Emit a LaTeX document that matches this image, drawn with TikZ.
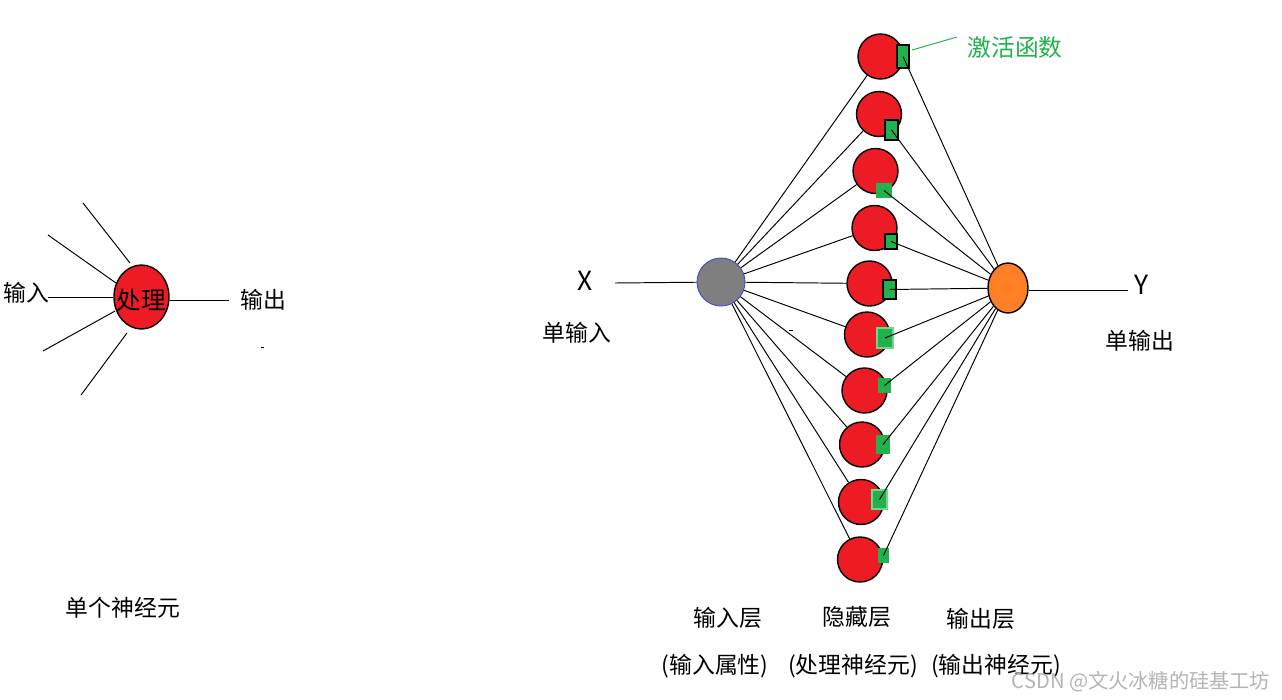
\documentclass[tikz,border=0pt]{standalone}
\usepackage{fontspec}
\setmainfont{Noto Sans CJK SC}
\usetikzlibrary{shapes.geometric}
\definecolor{pred}{HTML}{ED1C24}
\definecolor{pgreen}{HTML}{22B14C}
\definecolor{lgreen}{HTML}{6CD98A}
\definecolor{porange}{HTML}{FF7F27}
\definecolor{pgray}{HTML}{7F7F7F}
\definecolor{pblue}{HTML}{3F48CC}
\definecolor{wmark}{HTML}{B4B4B4}
\tikzset{
  lbl/.style={font=\fontsize{13pt}{15pt}\selectfont, inner sep=0pt},
  conn/.style={draw=black, line width=0.55pt},
  neuron/.style={circle, fill=pred, draw=black, line width=0.8pt, minimum size=0.9cm, inner sep=0pt},
  sqb/.style={draw=black, line width=0.6pt},
  sqn/.style={draw=none},
  sql/.style={draw=lgreen, line width=0.6pt},
}
\begin{document}
\begin{tikzpicture}[x=0.02cm,y=-0.02cm]
\useasboundingbox[fill=white] (0,0) rectangle (1282,700);

% ---------- single neuron ----------
\node[ellipse, fill=pred, draw=black, line width=0.8pt, minimum width=1.1cm, minimum height=1.28cm, inner sep=0pt] (proc) at (141.5,297) {};
\node[lbl, font=\fontsize{14pt}{16pt}\selectfont] (proct) at (141,300) {处理};
\node[lbl] (inl) at (26,293) {输入};
\node[lbl] (outl) at (263,300) {输出};
\coordinate (a1) at (83,203);
\coordinate (a2) at (48,235);
\coordinate (a3) at (48,297);
\coordinate (a4) at (43,351);
\coordinate (a5) at (81,395);
\coordinate (b1) at (229,300);
\draw[conn] (a1) -- (130,263);
\draw[conn] (a2) -- (116,283);
\draw[conn] (a3) -- (proc.west);
\draw[conn] (a4) -- (115,311);
\draw[conn] (a5) -- (127,333);
\draw[conn] (proc.east |- b1) -- (b1);
\coordinate (d1) at (261,347);
\draw[conn] (d1) -- ++(3,0);
\node[lbl] (single) at (123,608) {单个神经元};

% ---------- network ----------
\node[circle, fill=pgray, draw=pblue, line width=0.5pt, minimum size=0.96cm, inner sep=0pt] (in) at (721,282) {};
\node[ellipse, fill=porange, draw=black, line width=0.8pt, minimum width=0.8cm, minimum height=1.0cm, inner sep=0pt] (out) at (1008,288) {};
\coordinate (xin) at (615,283);
\coordinate (yout) at (1128,290);
\draw[conn] (xin) -- (in);
\draw[conn] (out.east |- yout) -- (yout);
\node[lbl, font=\fontsize{15pt}{17pt}\selectfont] (X) at (585,281) {X};
\node[lbl, font=\fontsize{15pt}{17pt}\selectfont] (Y) at (1141,285) {Y};
\node[lbl] (sin) at (577,333) {单输入};
\node[lbl] (sout) at (1140,341) {单输出};

\foreach \i/\hx/\hy/\sx/\sy/\w/\h/\b in {
  1/880.5/56.5/903/56.5/12/23/sqb,
  2/879/114/891.5/130/13/20/sqb,
  3/875.5/171/884/190.5/16/15/sqn,
  4/874.5/228/891/241.5/12/15/sqb,
  5/869.5/283.5/889.5/289.5/13/19/sqb,
  6/867/334.5/885/338/16/20/sql,
  7/864.5/390.5/884.5/385.5/13/15/sqn,
  8/862/444.5/883/444.5/14/19/sqn,
  9/861/502/879.5/499.5/15/19/sql,
  10/860/559.5/883.5/555.5/11/15/sqn}{
  \node[neuron] (h\i) at (\hx,\hy) {};
  \node[rectangle, fill=pgreen, \b, minimum width=\w*0.02cm, minimum height=\h*0.02cm, inner sep=0pt] (s\i) at (\sx,\sy) {};
  \draw[conn] (in) -- (h\i);
  \draw[conn] (s\i.center) -- (out);
}

\coordinate (d2) at (789,330);
\draw[conn] (d2) -- ++(4,0);

% activation function label
\node[lbl, text=pgreen, font=\fontsize{13.5pt}{16pt}\selectfont] (act) at (1015,48) {激活函数};
\coordinate (actA) at (912,50);
\coordinate (actB) at (957,37);
\draw[draw=pgreen, line width=0.55pt] (actA) -- (actB);

% layer labels
\node[lbl] (L1) at (728,618) {输入层};
\node[lbl] (L2) at (857,617) {隐藏层};
\node[lbl] (L3) at (981,619) {输出层};
\node[lbl] (M1) at (715,666) {(输入属性)};
\node[lbl] (M2) at (853,666) {(处理神经元)};
\node[lbl] (M3) at (996,666) {(输出神经元)};

% watermark
\node[lbl, text=wmark, font=\fontsize{11.5pt}{13pt}\selectfont] (wm) at (1141,682) {CSDN @文火冰糖的硅基工坊};
\end{tikzpicture}
\end{document}
